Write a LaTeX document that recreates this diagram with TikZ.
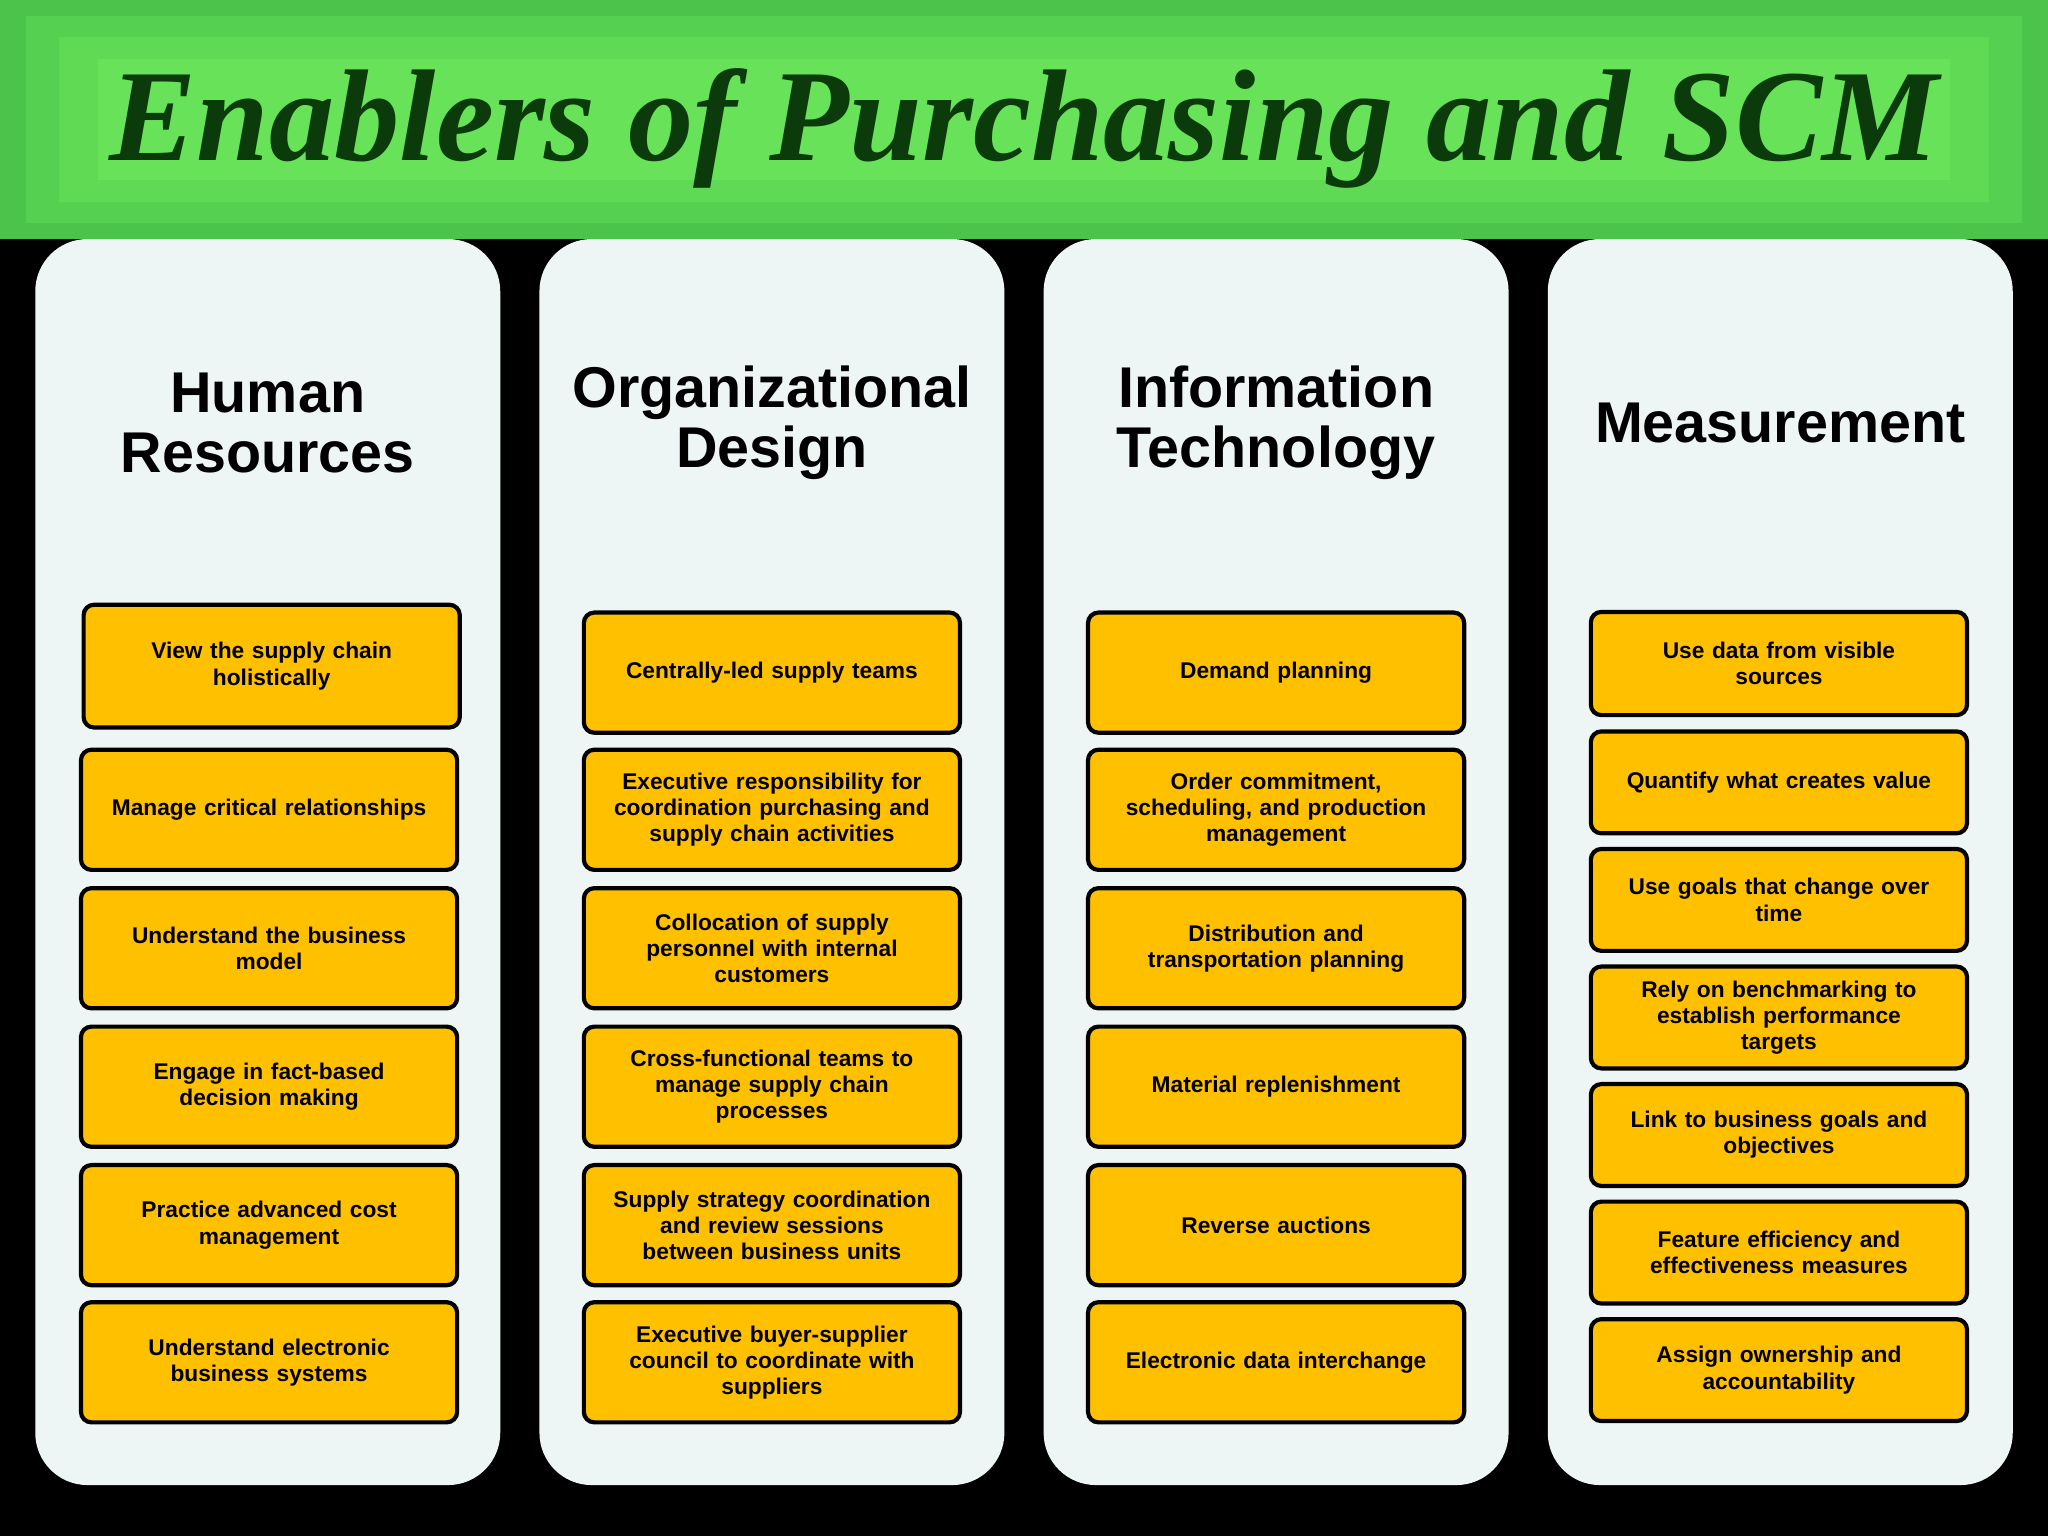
\documentclass[tikz,border=0pt]{standalone}
\usepackage{fontspec}
\setmainfont{Liberation Sans}
\newfontfamily\titlefont{Liberation Serif}
\definecolor{gold}{HTML}{FFC000}
\definecolor{panel}{HTML}{EEF5F5}
\definecolor{tgreen}{HTML}{0B3A0B}
\tikzset{
 bx/.style={draw=black,line width=1.6pt,fill=gold,rounded corners=4pt,minimum width=144pt,align=center,inner sep=2pt,text width=140pt,font=\bfseries\fontsize{8.7}{10}\selectfont},
 pnl/.style={fill=panel,rounded corners=20pt,draw=none},
 hd/.style={align=center,font=\bfseries\fontsize{22}{23}\selectfont}
}
\newcommand\B[5]{\node[bx,minimum height={#4*0.5pt}] (#1) at (#2,#3) {#5};}
\begin{document}
\begin{tikzpicture}[x=0.5pt,y=-0.5pt]
\fill[black] (0,0) rectangle (1568,1176);
\useasboundingbox (0,0) rectangle (1568,1176);
\fill[green!60!black!80!lime] (0,0) rectangle (1568,183);
\fill[color={rgb,255:red,76;green,196;blue,76}] (0,0) rectangle (1568,183);
\fill[color={rgb,255:red,86;green,208;blue,80}] (20,12) rectangle (1548,171);
\fill[color={rgb,255:red,96;green,218;blue,84}] (45,28) rectangle (1523,155);
\fill[color={rgb,255:red,104;green,226;blue,88}] (75,45) rectangle (1493,138);
\node[font=\titlefont\bfseries\itshape\fontsize{50}{50}\selectfont,text=tgreen] (title) at (784,98) {Enablers of Purchasing and SCM};
\fill[pnl] (27,183) rectangle (383,1137);
\fill[pnl] (413,183) rectangle (769,1137);
\fill[pnl] (799,183) rectangle (1155,1137);
\fill[pnl] (1185,183) rectangle (1541,1137);
\node[hd] (h1) at (205,324) {Human\\Resources};
\node[hd] (h2) at (591,324) {Organizational\\Design};
\node[hd] (h3) at (977,324) {Information\\Technology};
\node[hd] (h4) at (1363,324) {Measurement};
\B{a1}{208}{510}{94}{View the supply chain\\holistically}
\B{a2}{206}{620}{92}{Manage critical relationships}
\B{a3}{206}{726}{92}{Understand the business\\model}
\B{a4}{206}{832}{92}{Engage in fact-based\\decision making}
\B{a5}{206}{938}{92}{Practice advanced cost\\management}
\B{a6}{206}{1043}{92}{Understand electronic\\business systems}
\B{b1}{591}{515}{92}{Centrally-led supply teams}
\B{b2}{591}{620}{92}{Executive responsibility for\\coordination purchasing and\\supply chain activities}
\B{b3}{591}{726}{92}{Collocation of supply\\personnel with internal\\customers}
\B{b4}{591}{832}{92}{Cross-functional teams to\\manage supply chain\\processes}
\B{b5}{591}{938}{92}{Supply strategy coordination\\and review sessions\\between business units}
\B{b6}{591}{1043}{92}{Executive buyer-supplier\\council to coordinate with\\suppliers}
\B{c1}{977}{515}{92}{Demand planning}
\B{c2}{977}{620}{92}{Order commitment,\\scheduling, and production\\management}
\B{c3}{977}{726}{92}{Distribution and\\transportation planning}
\B{c4}{977}{832}{92}{Material replenishment}
\B{c5}{977}{938}{92}{Reverse auctions}
\B{c6}{977}{1043}{92}{Electronic data interchange}
\B{d1}{1362}{508}{79}{Use data from visible\\sources}
\B{d2}{1362}{599}{78}{Quantify what creates value}
\B{d3}{1362}{689}{78}{Use goals that change over\\time}
\B{d4}{1362}{779}{78}{Rely on benchmarking to\\establish performance\\targets}
\B{d5}{1362}{869}{78}{Link to business goals and\\objectives}
\B{d6}{1362}{959}{78}{Feature efficiency and\\effectiveness measures}
\B{d7}{1362}{1049}{78}{Assign ownership and\\accountability}
\end{tikzpicture}
\end{document}
